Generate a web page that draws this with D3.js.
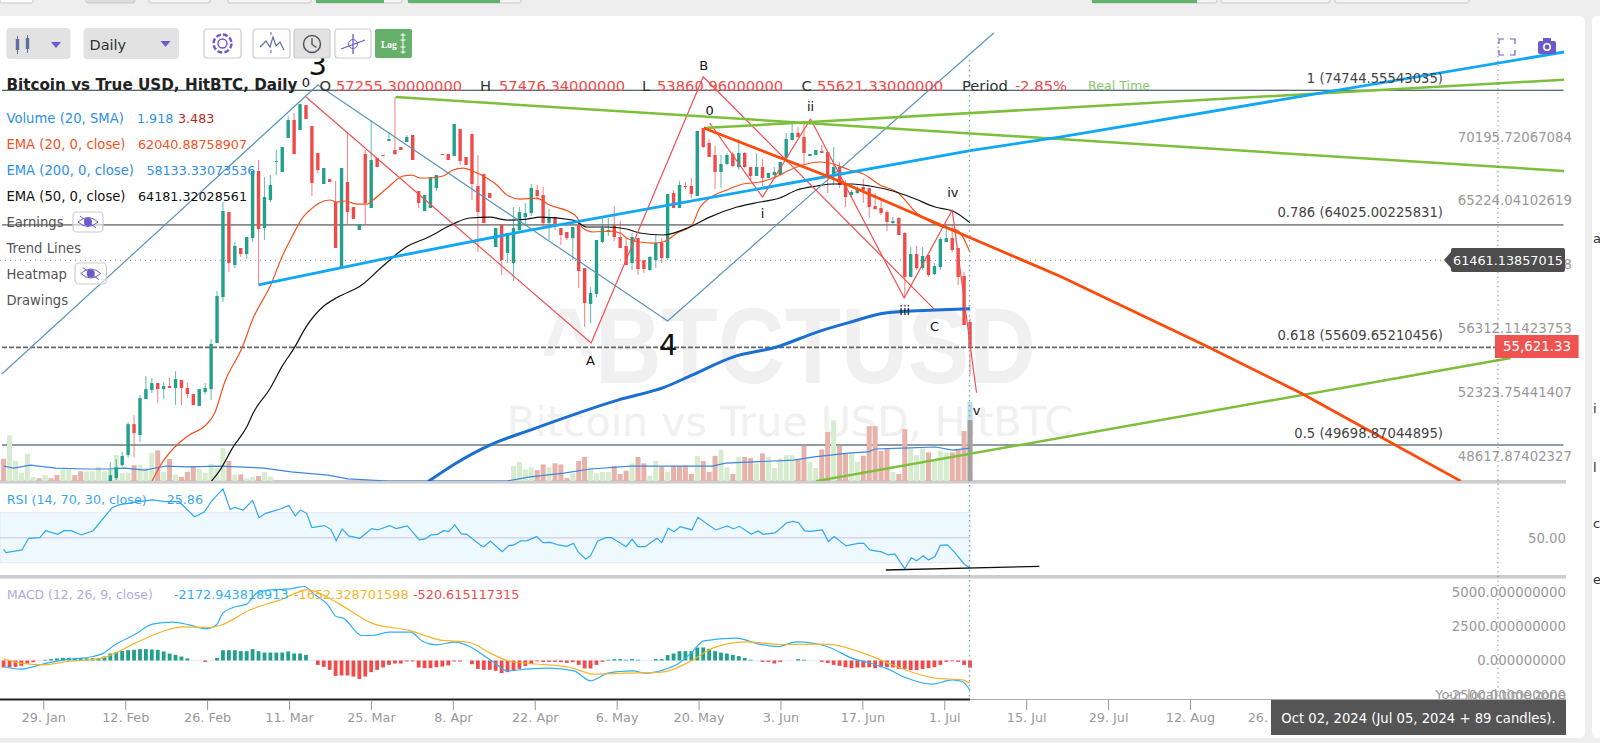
<!DOCTYPE html>
<html>
<head>
<meta charset="utf-8">
<script src="https://d3js.org/d3.v7.min.js"></script>
<style>
  body { margin: 0; background: #eeeeee; overflow: hidden; }
  svg { display: block; font-family: "DejaVu Sans", sans-serif; }
</style>
</head>
<body>
<div id="chart"></div>
<script>
// candles start at index 18, the ones before sit below the visible price range
const firstCandle = 18;
const opens = [47670,47850,48560,49125,50905,50270,52395,52940,53370,53000,53185,53065,53554,53065,52700,51975,52820,53000,55885,58920,64975,61130,62340,61910,63060,68115,63790,65880,68825,68040,70750,72233,71406,73485,71735,69540,67105,67490,65730,60920,67260,65350,63645,69460,65275,69145,69380,70510,69782,70025,70430,71000,66565,65050,65275,66800,69460,69460,69300,71490,69225,71080,66950,67880,66415,62415,64010,61985,61275,63645,64600,64900,66643,66260,64160,64600,63790,63500,63060,64010,60920,58450,59130,62775,63500,64010,63135,62485,61275,63060,61485,60782,61485,62700,61625,66415,65275,66950,66950,66180,71570,70350,69380,68040,68670,69460,68430,69540,68430,67725,68430,67570,67800,67800,69145,70589,71165,70835,69300,69380,69700,69620,67800,68430,67180,66260,66415,66875,66800,65425,65275,64975,64160,64530,63425,60295,61910,60920,61840,60505,60990,62775,63060,62340,60365,57255];
const highs = [48730,48900,49295,51025,51440,52640,53800,53680,53370,53430,53680,54110,53554,53370,52700,53000,53370,56140,59330,65730,64975,62775,62340,63135,68115,68984,67645,67800,69782,70025,72570,72820,73565,73485,71735,69540,68350,67490,67335,68350,71165,65350,64085,69782,72233,69145,69380,71240,74180,70025,71000,71000,66565,66260,67645,67800,69460,69460,71900,71490,69225,71080,69380,67880,66415,63790,64010,63425,65350,65350,65650,67105,67030,66875,65200,64600,63790,63500,63865,64160,60920,59605,62917,64530,64530,65425,64305,63060,63425,63060,61485,61770,63280,63060,66335,66643,67335,67260,67570,71325,71570,70670,70105,69380,69540,69620,70670,69620,68430,69540,69065,67960,68430,68825,71165,71900,71655,71985,69460,69782,70185,69620,70025,68825,67414,66643,66950,67490,66800,66415,65880,65126,64600,64600,63500,62415,62485,62415,61840,61275,63135,64010,64010,62340,60640,57476];
const lows = [47670,47730,48450,49010,49010,49865,52395,52760,52155,52395,53065,52035,52035,52455,52035,51975,52700,52335,55885,58585,60640,60920,61700,61555,62775,59740,62917,65730,67800,68040,70750,69460,71406,72315,66180,67960,67105,67260,62340,60920,64010,64455,63645,64010,65275,68430,69300,70510,69380,69782,70430,68984,65275,65050,65275,66565,69380,68984,69300,68590,68590,65880,62055,64160,66030,62415,60435,61275,60020,63500,64010,64680,65880,63865,62917,63645,62555,62917,61485,59535,56920,57185,58920,62700,63210,62845,62340,61130,60782,60435,60575,60710,60920,61275,61485,65275,65275,66720,66030,66180,69950,69225,66720,66800,68590,68430,68194,68350,67414,67725,66950,67570,67570,67800,68825,70589,70835,68590,69300,69380,69540,66415,67030,66800,65350,66030,66335,65650,64530,65126,64755,63570,64010,63280,58855,60295,60782,60782,60295,60435,60782,62775,62055,59740,57055,53860];
const closes = [48000,48450,49070,50905,50385,52455,53000,53370,53000,53185,53065,53615,53065,52700,52035,53000,53065,55820,58990,65050,61275,62485,61910,63135,68115,63720,66105,67030,68905,70025,72233,69460,73565,72315,67180,68194,68350,67260,62340,68350,64975,64455,64085,65650,68984,68430,69300,70670,69460,69782,70835,68984,65650,66260,67645,67800,69380,68984,71900,68905,68590,67105,64975,64160,66030,63790,61485,63425,63790,64975,64900,66800,66180,64160,64600,64085,63280,63060,63865,60710,58515,59195,62917,63790,63645,63135,62340,61130,63135,60850,60850,61700,62700,61625,66335,65275,67030,66875,66335,71325,70025,69225,68040,68670,69380,68510,69540,68430,67725,68430,67570,67960,68040,68825,70670,71165,70835,69540,69460,69782,69540,67800,68430,67030,66105,66490,66720,66643,65350,65200,64900,64235,64305,63280,60295,61910,60920,61770,60435,61060,62990,63060,62197,60295,57055,55621];

const volumes = [0.98,2.01,0.88,0.37,1.20,0.18,0.12,0.26,0.12,0.26,0.51,0.51,0.26,0.43,0.43,0.43,0.62,0.43,0.51,1.14,0.35,0.37,0.70,0.70,0.57,1.23,1.35,0.40,0.97,0.29,0.18,0.40,0.66,0.53,0.35,0.76,0.57,1.45,0.88,0.29,0.29,0.12,0.18,0.22,0.40,0.18,0,0,0,0,0,0,0,0,0,0,0,0,0,0,0,0,0,0,0,0,0,0,0,0,0,0,0,0,0,0,0,0,0,0,0,0,0,0,0,0,0.66,0.84,0.51,0.60,0.48,0.73,0.60,0.78,0.73,0.13,0.34,0.88,1.06,0.60,0.34,0.40,0.40,0.66,0.31,0.45,0.78,1.06,0.78,0.23,0.88,0.63,0.40,0.66,0.66,0.69,0.31,1.11,0.88,0.40,1.11,1.38,0.60,0.31,1.06,1.06,1.01,0.78,1.22,1.06,0.57,0.98,1.14,1.14,0.95,1.55,0.85,0.57,1.39,2.16,2.68,1.55,1.22,1.25,0.85,1.11,2.42,2.42,1.33,1.44,0.40,0.31,2.29,1.44,1.14,1.44,1.26,0.92,1.33,1.26,1.26,1.38,2.20,3.483];
const volumeDir = "duuuuududd" + "uudduuuuuu" + "uuduuududu" + "ddduuuuudu" + "duuduuuuuu" + "uuuuuuuuuu" + "uuuuuuuuuu" + "uuuuuuuuuu" + "uuuuuuuuuu" + "dduddduddu" + "uuuddduddu" + "ududdddudd" + "duududdudu" + "uuuudduudd" + "udduuddddd" + "udduuuduuu" + "dddd";
const volSmaIdx = [0,1.7,4.5,8.8,13.7,17.6,20.5,23.8,27.4,31.3,36.5,43.9,48.5,54.7,58.1,65,84.9,88.8,94.5,99,105.8,119.5,121.8,133.3,136.7,139.5,142.4,145.8,147,151.5,157.2,160.1,163];
const volSmaVal = [0.66,0.57,0.70,0.57,0.53,0.53,0.57,0.48,0.66,0.62,0.66,0.57,0.40,0.26,0.09,0,0,0.18,0.35,0.53,0.66,0.66,0.79,0.92,1.06,1.14,1.23,1.28,1.41,1.45,1.50,1.36,1.45];

const ema20Idx = [25,26.7,29.6,31.3,34.1,35.6,37.3,40.2,42.1,44.9,47.1,48.8,50.5,51.3,55,56.2,57.6,59.6,61.3,62.3,64.7,67.4,68.9,70.2,71.9,74.1,75.8,77.5,79.5,81.5,83.2,84.9,87.1,89.9,92.1,95.5,96.7,97.7,99.4,102.3,104,105.1,107.3,109.5,111.2,113.6,116.1,117.4,119.1,122,124.7,127.6,129.8,132.6,134.8,137.7,139.9,142.7,145,147.8,150.7,154,156.7,158.4,160.8,163];
const ema20Val = [47650,48670,49810,50270,50850,51560,53430,55560,57515,59605,61840,63280,64600,64975,65880,65730,65805,65575,65575,65880,66800,67725,67800,67570,67570,67725,68194,68350,68040,67570,67030,66260,65955,66030,65500,64975,64600,63790,63500,63570,63425,63060,62775,62700,62775,63425,64010,65275,66030,66643,67105,67260,67570,68194,68590,68825,68670,68194,67880,67030,66490,64900,64160,63865,63645,62040];
const ema50Idx = [35,36.5,38.7,41,42.1,45,46.9,49,51,54,56.4,60.4,63.8,67.9,71.7,75.8,78.6,82,84.9,88.3,90.5,96,98.4,101.7,105.1,107.3,111.2,115.7,119.1,123.7,127.6,130.9,133.8,137.2,139.9,143.2,146.1,150,153.4,157.1,160.1,163];
const ema50Val = [47650,48284,49580,50735,51560,53065,54360,55560,56920,58315,58920,59740,60990,62415,63135,64085,64530,64600,64381,64455,64600,64381,63865,63865,63720,63425,63280,63865,64600,65350,65730,66030,66643,66950,67105,67105,66950,66565,66030,65350,65050,64181];
const ema200Idx = [71.6,76.3,82,88.8,103.6,111.5,116.1,123,130.4,137.2,142.9,148.7,157.2,163];
const ema200Val = [47650,48670,49695,50559,52335,53120,53860,54990,55630,56595,57250,57850,58047,58133];

const rsiIdx = [0,0.4,3.1,4.2,6.1,7.1,9.1,10.2,11.4,13.1,15.1,18.2,19.4,22.8,25.1,27.3,29.6,32.2,33.9,35,37,38.2,39,40.4,42,43.1,44.2,46.2,48.1,49.2,50.1,51.1,52,54.1,55.2,56.1,57.1,58.2,60.1,62.1,63.1,65.1,66.2,68.1,70.1,71.1,72.1,73.2,74.2,75.1,76.1,77.2,78.1,80.4,81,82.1,84.1,85.2,86.1,87.2,88.3,89.9,91,92.2,93.6,95,96.1,97,98.2,99,100.2,101.6,102.5,105,106,107,108.2,110.2,111,112.1,113.1,114.1,116.1,117.1,120.1,122.1,123.1,124.1,126.1,127.3,128.1,130.1,132.1,133.1,134.1,135.1,136.1,138.1,139.1,140.1,142.1,144.1,145.1,146.1,148.1,149.2,150.3,152,153.1,154,155.1,156,157.1,158,159.2,160.3,162,163];
const rsiVal = [40.7,38,40.2,49.5,50,55.6,52.7,55.6,55.6,52.2,55.6,73.5,76.2,78.8,80.2,78.8,78.8,66.8,70.8,78.8,89,72.7,74.3,72.2,79.7,66,69.5,72.2,75.7,67.4,72.2,69.5,58.1,59.7,56.7,47.6,57,51.4,49.5,57.3,56.2,59.7,57.3,59.4,48.2,49,52.2,52.7,55.6,54.8,60.2,53,52.7,44.2,42.8,47.4,38.8,43.7,44.2,47.4,47.7,50.9,46.1,46.3,44.2,43.1,45.5,38,33,35.6,47.4,50.1,50.1,42.8,48.7,42.8,42.8,49.5,46.1,57.5,54.8,58.9,56.2,66.3,56.2,59.4,57,59.1,53,55.4,52.7,53.8,62,63.1,62,55.4,55.1,56.2,46.9,50.9,43.4,45.5,45.5,40.2,38.6,36.2,37,25.2,34,31.6,35.6,32.2,34.9,43.9,44.2,38.9,29,25.86];

const macdIdx = [0,2.8,6.8,10.2,15.1,16.5,18.8,22.2,25.1,28.5,31.3,34.2,35.9,37,39.3,41,42.7,45,48.4,50.7,52.4,54.7,56.1,57.3,60.4,62.1,65,68.7,70.7,73,76.1,78.6,81.2,82.9,84.9,88.8,92.2,96.2,99,101.9,103.9,106.2,108.2,111.3,113.9,116.1,118.1,123.5,127.5,130.7,133.8,138.9,143.5,145.8,149.2,152.1,156.6,160,161.7,163];
const macdVal = [-437,-632,-243,49,292,462,1142,1920,2649,2795,2600,2309,2600,3451,3937,4107,4909,5152,5225,5395,4836,4058,3208,3086,1823,1823,2066,2066,1385,1142,1337,1021,292,-194,-753,-608,-559,-753,-1482,-923,-802,-753,-923,-680,-194,608,1434,1628,1191,1021,1361,1021,97,-146,-632,-1239,-1725,-1409,-1531,-2173];
const signalIdx = [0,2.8,6.8,10.8,16.5,22.2,26.8,30.2,34.8,36.5,41.6,46.7,51.3,56.4,62.1,68.7,73.5,78.6,82.1,85.5,88.8,95.6,99.6,104.7,111,116.1,119.6,125.3,131,138.4,145.8,149.2,157.2,161.7,163];
const signalVal = [122,-194,-316,-73,170,1264,2114,2454,2406,2552,3694,4423,5152,4180,2722,2163,1507,1312,535,-73,-219,-510,-996,-923,-851,0,899,1361,1166,1191,413,-194,-1288,-1409,-1652];
const macdHist = [-510,-510,-460,-390,-220,-120,0,50,100,150,190,190,190,170,150,170,190,290,510,610,700,750,780,830,830,800,780,660,510,410,290,150,0,0,-100,0,190,750,750,750,680,680,830,680,580,580,580,580,660,510,510,410,0,-320,-460,-680,-1120,-1090,-1090,-1170,-1340,-1170,-850,-680,-510,-320,-220,-220,-70,-70,-510,-560,-560,-490,-440,-360,-70,-70,0,-270,-610,-680,-680,-750,-920,-850,-750,-610,-390,-270,-60,-100,-100,-100,-120,-170,-120,-320,-580,-580,-320,-100,50,100,100,50,100,50,0,0,100,100,390,510,680,680,680,950,950,850,680,580,510,410,320,190,50,0,-100,-100,-220,-100,0,0,100,50,0,0,-100,-190,-320,-390,-490,-560,-510,-510,-490,-560,-490,-490,-510,-610,-610,-700,-700,-610,-560,-490,-320,-100,-60,-100,-320,-520];

// drawings, candle index and price of each anchor
const trendBlue = [[43,59746],[66,61719],[88.8,63645],[163.05,69730],[178.1,70830],[263.2,78112]];
const trendGreenFall = [[66.1,74170],[263.2,68117]];
const trendGreenRise = [[118.1,71570],[263.2,75661]];
const trendGreenLow = [[137,47676],[254.2,54926]];
const trendOrange = [[118.1,71570],[139.2,67670],[160,63645],[178.1,60365],[203.1,55645],[218.8,52760],[245.8,47676]];
const waveSteel = [[-0.3,53925],[53,75200],[112,57317],[167,79840]];
const waveAbc = [[51,74170],[99.1,55884],[118,75923],[157,58093]];
const waveImpulse = [[119.1,71985],[128,66105],[136.1,72315],[151.9,58855],[160,65126],[164.1,52777]];
const rsiTrend = [[148.8,24.2],[174.7,27.1]];
const waveLabels = ["3","0","A","4","B","0","i","ii","iv","iii","C","v"];
const waveLabelIdx = [53,51,99,112.1,118.1,119.1,128,136.1,160.1,152,157,164.1];
const waveLabelPrice = [76950,75375,54801,55755,76950,73069,64900,73325,66415,58047,56990,51736];

const fibValues = [74744.55543035,64025.00225831,55609.65210456,49698.87044895];
const fibNames = ["1","0.786","0.618","0.5"];
const priceTicks = [70195.72067084,65224.04102619,60604.14867318,56312.11423753,52323.75441407,48617.87402327];
const macdTicks = [5000,2500,0,-2500];
const dateTicks = ["2024-01-29","2024-02-12","2024-02-26","2024-03-11","2024-03-25","2024-04-08","2024-04-22","2024-05-06","2024-05-20","2024-06-03","2024-06-17","2024-07-01","2024-07-15","2024-07-29","2024-08-12","2024-08-26"];

const width = 1600, height = 743;
const green = "#22a08c", red = "#f04b4b", grey = "#999";

const svg = d3.select("#chart").append("svg").attr("width", width).attr("height", height);

const x = d3.scaleLinear().domain([0, 163]).range([3.6, 970]);
const xDate = d3.scaleUtc().domain([new Date("2024-01-29"), new Date("2024-08-12")]).range([43.3, 1190]);
const y = d3.scaleLog().domain([49698.87, 74744.56]).range([445, 90.3]);
const yVol = d3.scaleLinear().domain([0, 3.483]).range([481, 402]);
const yRsi = d3.scaleLinear().domain([30, 70]).range([562.7, 512.7]);
const yMacd = d3.scaleLinear().domain([0, 2500]).range([660.5, 626.2]);

function label(g, px, py, txt, fill, size, extra) {
    const t = g.append("text").attr("x", px).attr("y", py).text(txt)
        .attr("fill", fill).attr("font-size", size).attr("dominant-baseline", "central");
    if (extra) extra(t);
    return t;
}

// page and cards
svg.append("rect").attr("width", width).attr("height", height).attr("fill", "#eeeeee");
svg.append("rect").attr("x", -6).attr("y", 16).attr("width", 1591).attr("height", 722).attr("rx", 5).attr("fill", "#fff");
svg.append("rect").attr("x", 1592).attr("y", 16).attr("width", 20).attr("height", 722).attr("rx", 5).attr("fill", "#fff");
[["a",238],["i",408],["l",467],["c",523],["e",579]].forEach(d => label(svg, 1593, d[1], d[0], "#333", 13));

// clipped row of buttons along the top
const topRow = svg.append("g");
[[0,33,"#fff"],[86,135,"#dcdcdc"],[149,210,"#f4f4f4"],[228,311,"#f4f4f4"],[316,402,"#f4f4f4"],[408,521,"#f4f4f4"],[1092,1217,"#f4f4f4"],[1221,1330,"#f4f4f4"],[1335,1469,"#f4f4f4"]].forEach(d => {
    topRow.append("rect").attr("x", d[0]).attr("y", -4).attr("width", d[1] - d[0]).attr("height", 7)
        .attr("rx", 2).attr("fill", d[2]).attr("stroke", "#c8c8c8");
});
[[316,384],[408,500],[1092,1197]].forEach(d => {
    topRow.append("rect").attr("x", d[0]).attr("y", -4).attr("width", d[1] - d[0]).attr("height", 7).attr("fill", "#62b26c");
});

// watermarks
svg.append("text").text("^BTCTUSD").attr("x", 541).attr("y", 383).attr("fill", "#f0f0f0")
    .attr("font-family", "Liberation Sans").attr("font-weight", "bold").attr("font-size", 108)
    .attr("textLength", 495).attr("lengthAdjust", "spacingAndGlyphs");
svg.append("text").text("Bitcoin vs True USD, HitBTC").attr("x", 507).attr("y", 436).attr("fill", "#f0f0f0")
    .attr("font-size", 41).attr("textLength", 566).attr("lengthAdjust", "spacingAndGlyphs");

// rsi and macd backgrounds
svg.append("rect").attr("x", 0).attr("y", yRsi(70)).attr("width", 970).attr("height", yRsi(30) - yRsi(70))
    .attr("fill", "#edf9fc").attr("stroke", "#e6e6f6");
svg.append("line").attr("x1", 0).attr("x2", 970).attr("y1", yRsi(50)).attr("y2", yRsi(50)).attr("stroke", "#d8d4ef").attr("stroke-width", 1.5);
svg.append("line").attr("x1", 0).attr("x2", 970).attr("y1", yMacd(0)).attr("y2", yMacd(0)).attr("stroke", "#eeeefa").attr("stroke-width", 1.5);

// panel separators
[482, 577].forEach(py => {
    svg.append("rect").attr("x", 0).attr("y", py - 2).attr("width", 1566).attr("height", 3.6).attr("fill", "#cdcdcd");
});

svg.append("defs").append("clipPath").attr("id", "mainClip").append("rect")
    .attr("x", 0).attr("y", 30).attr("width", 1566).attr("height", 451);
const main = svg.append("g").attr("clip-path", "url(#mainClip)");

// fibonacci levels
fibValues.forEach((v, i) => {
    const line = main.append("line").attr("x1", 2).attr("x2", 1563.5).attr("y1", y(v)).attr("y2", y(v));
    if (i == 0 || i == 3) line.attr("stroke", "#1e3a48").attr("stroke-width", 1.1);
    if (i == 1) line.attr("stroke", "#8a8a8a").attr("stroke-width", 1.6);
    if (i == 2) line.attr("stroke", "#666").attr("stroke-width", 1.6).attr("stroke-dasharray", "5 2");
    label(svg, 1443, y(v) - 12, `${fibNames[i]} (${v.toFixed(8)})`, "#444", 13.2, t => t.attr("text-anchor", "end"));
});

// crosshair, horizontal part
main.append("line").attr("x1", 0).attr("x2", 1450).attr("y1", y(61461.14)).attr("y2", y(61461.14))
    .attr("stroke", "#888").attr("stroke-dasharray", "1 4");

// volume, the last bar sits under the crosshair so it reads grey with a pale cap
const lastVol = volumes.length - 1;
main.append("g").selectAll("rect").data(volumes).join("rect")
    .attr("x", (d, i) => x(i) - 2.5)
    .attr("y", d => yVol(d))
    .attr("width", 5)
    .attr("height", d => yVol(0) - yVol(d))
    .attr("fill", (d, i) => i == lastVol ? "#bcdfe6" : (volumeDir[i] == "u" ? "#d5ecce" : "#e6b2aa"));
main.append("rect")
    .attr("x", x(lastVol) - 2.5).attr("width", 5)
    .attr("y", yVol(2.68)).attr("height", yVol(0) - yVol(2.68))
    .attr("fill", "#a9a09e");
main.append("path")
    .attr("d", d3.line().x(d => x(d[0])).y(d => yVol(d[1]))(d3.zip(volSmaIdx, volSmaVal)))
    .attr("fill", "none").attr("stroke", "#3f86dc").attr("stroke-width", 1.2);

// candles
const candles = main.append("g").selectAll("g").data(opens).join("g")
    .attr("stroke", (d, i) => closes[i] >= d ? green : red)
    .attr("fill", (d, i) => closes[i] >= d ? green : red);
candles.append("line")
    .attr("x1", (d, i) => x(i + firstCandle)).attr("x2", (d, i) => x(i + firstCandle))
    .attr("y1", (d, i) => y(highs[i])).attr("y2", (d, i) => y(lows[i]))
    .attr("stroke-opacity", 0.65).attr("stroke-width", 1.1);
candles.append("rect")
    .attr("x", (d, i) => x(i + firstCandle) - 1.7)
    .attr("y", (d, i) => y(Math.max(d, closes[i])))
    .attr("width", 3.4)
    .attr("height", (d, i) => Math.max(1, Math.abs(y(d) - y(closes[i]))))
    .attr("stroke", "none");

function drawLine(pts, color, w, smooth) {
    const line = d3.line().x(d => x(d[0])).y(d => y(d[1]));
    if (smooth) line.curve(d3.curveMonotoneX);
    return main.append("path").attr("d", line(pts)).attr("fill", "none")
        .attr("stroke", color).attr("stroke-width", w).attr("stroke-linejoin", "round");
}

// moving averages
drawLine(d3.zip(ema20Idx, ema20Val), "#f4511e", 1.2, true);
drawLine(d3.zip(ema50Idx, ema50Val), "#111", 1.2, true);
drawLine(d3.zip(ema200Idx, ema200Val), "#1a6fd0", 3, true);

// drawings
drawLine(waveSteel, "#5a95bd", 1.2);
drawLine(waveAbc, "#f25050", 1.2);
drawLine(waveImpulse, "#f25050", 1.2);
drawLine(trendGreenFall, "#7cbf3a", 2.5);
drawLine(trendGreenRise, "#7cbf3a", 2.5);
drawLine(trendGreenLow, "#7cbf3a", 2.5);
drawLine(trendBlue, "#10a8f5", 2.8);
drawLine(trendOrange, "#ff4a0a", 2.8);

// wave labels
waveLabels.forEach((t, i) => {
    const big = t == "3" || t == "4";
    label(svg, x(waveLabelIdx[i]), y(waveLabelPrice[i]), t, "#111", big ? 29 : 13, s => s.attr("text-anchor", "middle"));
});

// rsi
svg.append("path")
    .attr("d", d3.line().x(d => x(d[0])).y(d => yRsi(d[1]))(d3.zip(rsiIdx, rsiVal)))
    .attr("fill", "none").attr("stroke", "#2fa9f2").attr("stroke-width", 1.2);
svg.append("path")
    .attr("d", d3.line().x(d => x(d[0])).y(d => yRsi(d[1]))(rsiTrend))
    .attr("fill", "none").attr("stroke", "#111").attr("stroke-width", 1.4);

// macd
svg.append("g").selectAll("rect").data(macdHist).join("rect")
    .attr("x", (d, i) => x(i) - 1.9)
    .attr("y", d => d > 0 ? yMacd(d) : yMacd(0))
    .attr("width", 3.8)
    .attr("height", d => Math.abs(yMacd(d) - yMacd(0)))
    .attr("fill", d => d > 0 ? "#22a08c" : "#f04b4b");
const macdLine = d3.line().x(d => x(d[0])).y(d => yMacd(d[1])).curve(d3.curveMonotoneX);
svg.append("path").attr("d", macdLine(d3.zip(macdIdx, macdVal))).attr("fill", "none").attr("stroke", "#2fb0f5").attr("stroke-width", 1.2);
svg.append("path").attr("d", macdLine(d3.zip(signalIdx, signalVal))).attr("fill", "none").attr("stroke", "#f5b52a").attr("stroke-width", 1.2);

// axes
function cleanAxis(g) {
    g.select(".domain").remove();
    g.selectAll("text").attr("fill", grey).attr("font-size", 13.3).attr("font-family", "DejaVu Sans");
}
svg.append("g").attr("transform", "translate(1572,-8)")
    .call(d3.axisLeft(y).tickValues(priceTicks).tickFormat(d => d.toFixed(8)).tickSize(0).tickPadding(0))
    .call(cleanAxis);
svg.append("g").attr("transform", "translate(1566,1)")
    .call(d3.axisLeft(yRsi).tickValues([50]).tickFormat(d => d.toFixed(2)).tickSize(0).tickPadding(0))
    .call(cleanAxis);
svg.append("g").attr("transform", "translate(1566,0)")
    .call(d3.axisLeft(yMacd).tickValues(macdTicks).tickFormat(d => d.toFixed(9)).tickSize(0).tickPadding(0))
    .call(cleanAxis);

svg.append("line").attr("x1", 0).attr("x2", 1566).attr("y1", 699.5).attr("y2", 699.5).attr("stroke", "#aaa");
svg.append("line").attr("x1", 0).attr("x2", 970).attr("y1", 699.5).attr("y2", 699.5).attr("stroke", "#222").attr("stroke-width", 1.8);
svg.append("g").attr("transform", "translate(0,700)")
    .call(d3.axisBottom(xDate).tickValues(dateTicks.map(d => new Date(d))).tickFormat(d3.utcFormat("%-d. %b")).tickSize(10).tickPadding(3))
    .call(g => {
        g.select(".domain").remove();
        g.selectAll("line").attr("stroke", "#999");
        g.selectAll("text").attr("fill", grey).attr("font-size", 12.8).attr("font-family", "DejaVu Sans");
    });

// crosshair and last candle verticals
svg.append("line").attr("x1", 969.5).attr("x2", 969.5).attr("y1", 60).attr("y2", 699)
    .attr("stroke", "#6fa8b0").attr("stroke-width", 1.3).attr("stroke-dasharray", "1.5 3.5");
svg.append("line").attr("x1", 1498).attr("x2", 1498).attr("y1", 33).attr("y2", 696)
    .attr("stroke", "#777").attr("stroke-dasharray", "1.2 3.4");

// header row
const head = svg.append("g");
label(head, 6.4, 85, "Bitcoin vs True USD, HitBTC, Daily", "#222", 15.2, t => t.attr("font-weight", "bold"));
[[319.5,"O","#333"],[336,"57255.30000000",red],[480,"H","#333"],[499,"57476.34000000",red],[642,"L","#333"],[657,"53860.96000000",red],[801.5,"C","#333"],[817,"55621.33000000",red],[962,"Period","#333"],[1015,"-2.85%",red],[1088,"Real Time","#86c96c"]].forEach(d => {
    label(head, d[0], 85, d[1], d[2], d[1] == "Real Time" ? 12.6 : 14.7);
});

// indicator legend
const legend = svg.append("g");
[[118,"Volume (20, SMA)","#2f8fe8"],[144,"EMA (20, 0, close)","#f4511e"],[170,"EMA (200, 0, close)","#2f8fe8"],[196,"EMA (50, 0, close)","#111"],[222,"Earnings","#555"],[248,"Trend Lines","#555"],[274,"Heatmap","#555"],[300,"Drawings","#555"]].forEach(d => {
    label(legend, 6.4, d[0], d[1], d[2], 13.2);
});
label(legend, 137, 118, "1.918", "#2f8fe8", 12.7);
label(legend, 178, 118, "3.483", "#b3261e", 12.7);
label(legend, 138, 144, "62040.88758907", "#f4511e", 12.7);
label(legend, 146.4, 170, "58133.33073536", "#2f8fe8", 12.7);
label(legend, 138, 196, "64181.32028561", "#111", 12.7);
label(legend, 6.8, 499, "RSI (14, 70, 30, close)", "#3aa7f0", 12.7);
label(legend, 166.7, 499, "25.86", "#3aa7f0", 12.7);
label(legend, 7, 594, "MACD (12, 26, 9, close)", "#b5a8e0", 12.4);
label(legend, 174, 594, "-2172.943818913", "#2fb0f5", 12.8);
label(legend, 294, 594, "-1652.328701598", "#f5b52a", 12.8);
label(legend, 413, 594, "-520.615117315", "#f04b4b", 12.8);

// eye toggles
[[73,212,30,20],[75,263,31.5,21]].forEach(d => {
    const g = legend.append("g");
    g.append("rect").attr("x", d[0]).attr("y", d[1]).attr("width", d[2]).attr("height", d[3]).attr("rx", 4).attr("fill", "#fff").attr("fill-opacity", 0.6).attr("stroke", "#ccc").attr("stroke-width", 1.2);
    const cx = d[0] + d[2] / 2, cy = d[1] + d[3] / 2;
    g.append("path").attr("d", `M${cx - 10},${cy} Q${cx},${cy - 9} ${cx + 10},${cy} Q${cx},${cy + 9} ${cx - 10},${cy}Z`).attr("fill", "none").attr("stroke", "#6a5acd");
    g.append("circle").attr("cx", cx).attr("cy", cy).attr("r", 4).attr("fill", "#6a5acd");
    g.append("line").attr("x1", cx - 8).attr("y1", cy - 6).attr("x2", cx + 8).attr("y2", cy + 6).attr("stroke", "#6a5acd");
});

// tags on the price axis
svg.append("path").attr("d", "M1444,260 L1451,252 L1451,250 Q1451,248 1453,248 L1563,248 Q1565,248 1565,250 L1565,270 Q1565,272 1563,272 L1453,272 Q1451,272 1451,270 L1451,268 Z").attr("fill", "#4d4d4d");
label(svg, 1508, 260, "61461.13857015", "#fff", 12.8, t => t.attr("text-anchor", "middle"));
svg.append("rect").attr("x", 1495).attr("y", 335).attr("width", 83.6).attr("height", 23).attr("fill", "#ef5350");
label(svg, 1537, 346, "55,621.33", "#fff", 13.4, t => t.attr("text-anchor", "middle"));
label(svg, 1566, 694, "Your local time zone", grey, 13, t => t.attr("text-anchor", "end"));
svg.append("rect").attr("x", 1271).attr("y", 700).attr("width", 295).attr("height", 35).attr("fill", "#555");
label(svg, 1418.5, 718, "Oct 02, 2024 (Jul 05, 2024 + 89 candles).", "#fff", 13.2, t => t.attr("text-anchor", "middle"));

// toolbar
const purple = "#6a5acd";
const tools = svg.append("g");
[[6.4,64,"#e2e2e2"],[83.5,95.5,"#e2e2e2"]].forEach(d => {
    tools.append("rect").attr("x", d[0]).attr("y", 28).attr("width", d[1]).attr("height", 31).attr("rx", 4).attr("fill", d[2]);
});
[[204,37,"#fff"],[253,37,"#fff"],[294,36,"#e2e2e2"],[335,36,"#fff"]].forEach(d => {
    tools.append("rect").attr("x", d[0]).attr("y", 29).attr("width", d[1]).attr("height", 29).attr("rx", 3).attr("fill", d[2]).attr("stroke", "#ccc").attr("stroke-width", 1.2);
});
tools.append("rect").attr("x", 375).attr("y", 29).attr("width", 37).attr("height", 29).attr("rx", 2).attr("fill", "#66b06c");
label(tools, 381, 44.5, "Log", "#fff", 9.5, t => t.attr("font-family", "Liberation Serif").attr("font-weight", "bold"));
tools.append("path").attr("d", "M403,33 V54 M400.5,35 H405.5 M400.5,40 H405.5 M400.5,47 H405.5 M400.5,52 H405.5").attr("stroke", "#fff").attr("fill", "none");
// candle icon
tools.append("path").attr("d", "M17.5,36 V54 M27.5,35 V53").attr("stroke", "#5f6fa0");
tools.append("rect").attr("x", 15.8).attr("y", 39).attr("width", 3.4).attr("height", 11).attr("fill", "#5f6fa0");
tools.append("rect").attr("x", 25.8).attr("y", 38).attr("width", 3.4).attr("height", 11).attr("fill", "#5f6fa0");
[[56,45],[165.5,44]].forEach(d => tools.append("path").attr("d", `M${d[0] - 5},${d[1] - 3} H${d[0] + 5} L${d[0]},${d[1] + 3}Z`).attr("fill", purple));
label(tools, 89.5, 44.5, "Daily", "#333", 14.5);
// gear
tools.append("circle").attr("cx", 222.5).attr("cy", 43.5).attr("r", 4.5).attr("fill", "none").attr("stroke", purple).attr("stroke-width", 1.4);
tools.append("circle").attr("cx", 222.5).attr("cy", 43.5).attr("r", 9).attr("fill", "none").attr("stroke", purple).attr("stroke-width", 2.4).attr("stroke-dasharray", "5 2.1");
// chart lines icon
tools.append("path").attr("d", "M260,47 L266,41 L270,47 L273,37 L276,46 L280,42 L284,50").attr("fill", "none").attr("stroke", "#5f6fa0").attr("stroke-width", 1.2);
tools.append("path").attr("d", "M271,32 V35 M271,50 V53").attr("fill", "none").attr("stroke", purple);
// clock
tools.append("circle").attr("cx", 312).attr("cy", 44).attr("r", 8.5).attr("fill", "none").attr("stroke", "#555").attr("stroke-width", 1.5);
tools.append("path").attr("d", "M312,38 V44.5 L316.5,47.5").attr("fill", "none").attr("stroke", "#555").attr("stroke-width", 1.4);
// crosshair icon
tools.append("circle").attr("cx", 353).attr("cy", 44).attr("r", 4.5).attr("fill", "none").attr("stroke", purple);
tools.append("path").attr("d", "M353,34 V54 M341,49 L365,40").attr("fill", "none").attr("stroke", purple).attr("stroke-width", 1.3);
// fullscreen and camera
tools.append("path").attr("d", "M1499,44 V39 H1504 M1510,39 H1515 V44 M1515,50 V55 H1510 M1504,55 H1499 V50").attr("fill", "none").attr("stroke", purple).attr("stroke-width", 1.2);
tools.append("rect").attr("x", 1538).attr("y", 41).attr("width", 18).attr("height", 13).attr("rx", 2).attr("fill", purple);
tools.append("rect").attr("x", 1543).attr("y", 38).attr("width", 8).attr("height", 4).attr("fill", purple);
tools.append("circle").attr("cx", 1547).attr("cy", 47).attr("r", 3.2).attr("fill", "none").attr("stroke", "#fff").attr("stroke-width", 1.6);
</script>
</body>
</html>
